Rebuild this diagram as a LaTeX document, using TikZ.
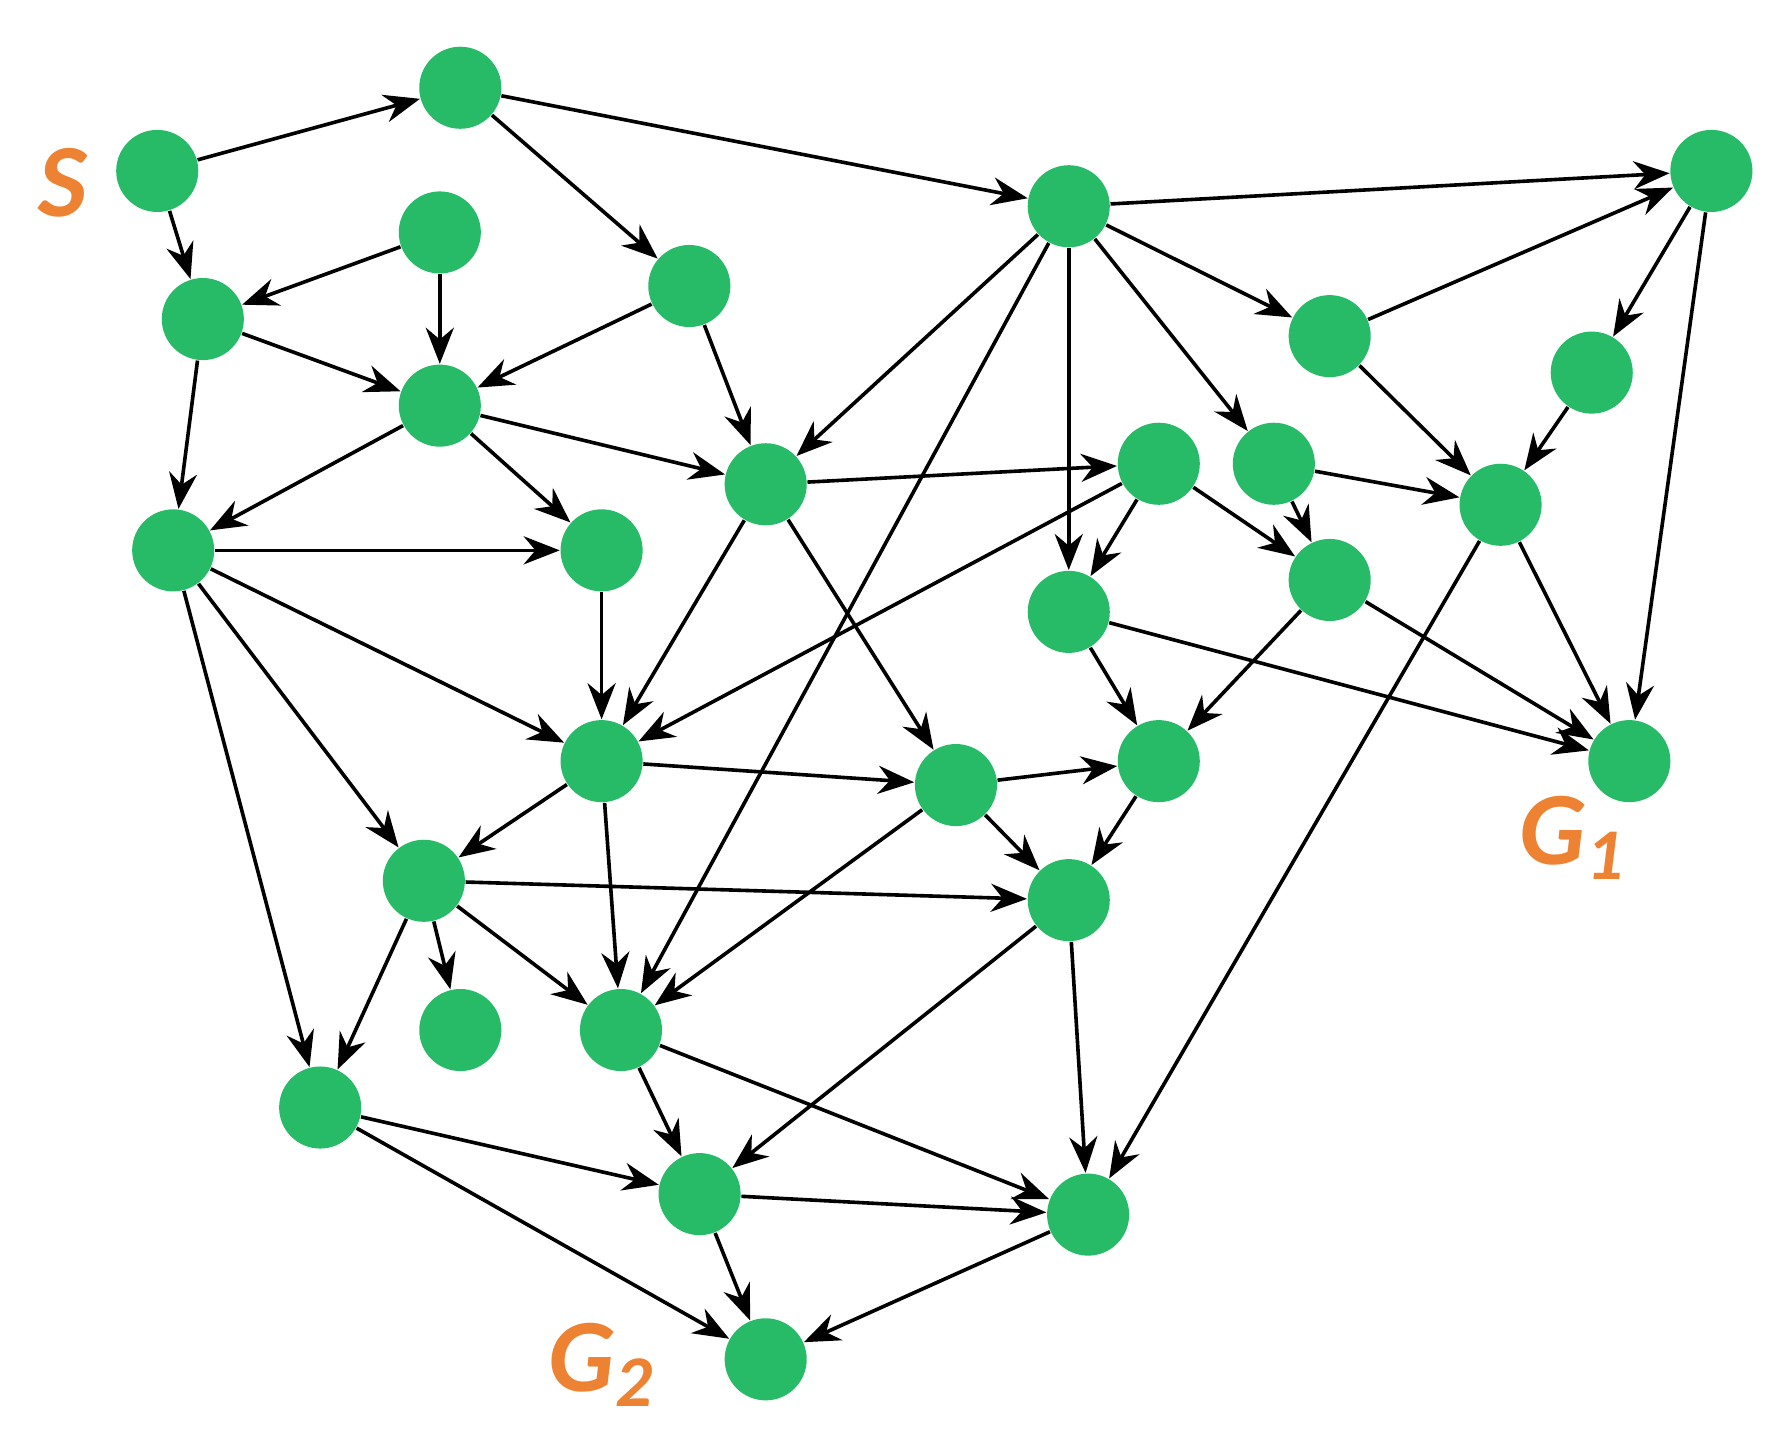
\documentclass[tikz,border=0pt]{standalone}
\usepackage{fontspec}
\setmainfont{Carlito}
\usetikzlibrary{arrows.meta}
\definecolor{gn}{HTML}{27BB68}
\definecolor{og}{HTML}{EE8233}
\begin{document}
\begin{tikzpicture}[x=0.01cm,y=-0.01cm,
 vtx/.style={circle,fill=gn,minimum size=0.72cm,inner sep=0pt},
 lbl/.style={text=og,font=\fontsize{26}{30}\selectfont\bfseries\itshape},
 e/.style={-{Stealth[length=9pt,width=7pt]},line width=0.9pt}]
\useasboundingbox (0,0) rectangle (1564,1256);
\foreach \n/\x/\y in {S0/138/150,A/404/77,B/386/204,C/178/280,D/605/251,E/386/356,F/152/483,H/528/483,I/672/425,J/938/181,K/1502/150,L/1167/295,M/1397/327,N/1017/407,O/1118/407,P/1317/443,Q/938/537,R/1167/509,G1/1430/668,T/528/668,U/839/689,V/1017/668,W/372/773,X/938/790,Y/404/904,Z/545/904,AA/281/972,AB/614/1048,AC/955/1066,G2/672/1193}
 \node[vtx] (\n) at (\x,\y) {};
\node[lbl] (ls) at (55,160) {S};
\node[lbl] (lg1) at (1380,735) {G\textsubscript{1}};
\node[lbl] (lg2) at (528,1198) {G\textsubscript{2}};
\foreach \a/\b in {S0/A,S0/C,A/J,A/D,B/C,B/E,C/E,C/F,D/E,D/I,E/F,E/H,E/I,I/N,I/T,I/U,F/H,F/T,F/W,F/AA,H/T,J/K,J/L,J/I,J/Z,J/Q,J/O,L/K,L/P,K/M,K/G1,M/P,N/Q,N/R,N/T,O/P,O/R,P/G1,P/AC,Q/V,Q/G1,R/V,R/G1,T/U,T/W,T/Z,U/V,U/X,U/Z,V/X,W/X,W/Y,W/Z,W/AA,X/AB,X/AC,Z/AB,Z/AC,AA/AB,AA/G2,AB/AC,AB/G2,AC/G2}
 \draw[e] (\a) -- (\b);
\end{tikzpicture}
\end{document}
